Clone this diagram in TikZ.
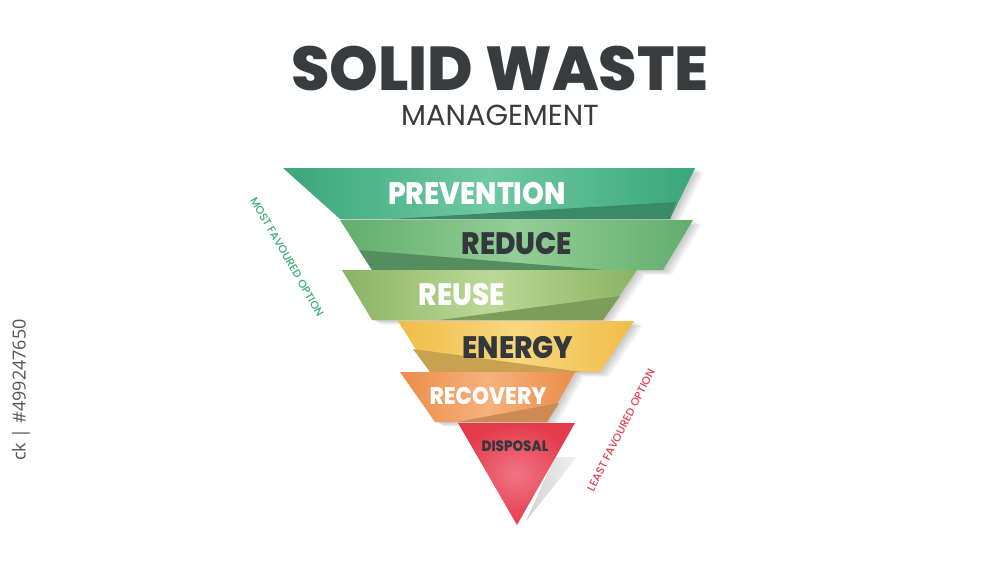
\documentclass[tikz,border=0pt]{standalone}
\usepackage{fontspec}
\setmainfont{Poppins}
\IfFontExistsTF{Poppins ExtraBold}{\newfontfamily\heavy{Poppins ExtraBold}}{\newfontfamily\heavy{Poppins}[UprightFont=* Bold]}
\IfFontExistsTF{Poppins Medium}{\newfontfamily\medium{Poppins Medium}}{\newfontfamily\medium{Poppins}}
\IfFontExistsTF{Open Sans SemiBold}{\newfontfamily\wmfont{Open Sans SemiBold}}{\newfontfamily\wmfont{Open Sans}}
\definecolor{ttl}{HTML}{393C3F}
\definecolor{dk}{HTML}{33383C}
\definecolor{aE}{HTML}{3AA67A}\definecolor{aM}{HTML}{6FC9A3}\definecolor{aD}{HTML}{3A8A68}
\definecolor{bE}{HTML}{62AD6E}\definecolor{bM}{HTML}{92CE96}\definecolor{bD}{HTML}{548E5E}
\definecolor{cE}{HTML}{89B363}\definecolor{cM}{HTML}{BAD996}\definecolor{cD}{HTML}{7D9E5A}
\definecolor{dE}{HTML}{F0BC48}\definecolor{dM}{HTML}{F9D87E}\definecolor{dD}{HTML}{C9A150}
\definecolor{eE}{HTML}{EC8C4A}\definecolor{eM}{HTML}{F5B27C}\definecolor{eD}{HTML}{CC8A56}
\definecolor{fE}{HTML}{E43B4D}\definecolor{fM}{HTML}{F07584}
\definecolor{grn}{HTML}{3AAD78}
\definecolor{rd}{HTML}{E8404F}
\definecolor{wm}{HTML}{555555}
\tikzset{
  lbl/.style={inner sep=0pt, xscale=0.9, font=\heavy\fontsize{31}{31}\selectfont},
  side/.style={inner sep=0pt, font=\medium\fontsize{11}{11}\selectfont},
  shad/.style={fill=black, opacity=0.03},
}
\newcommand\softshadow[1]{\foreach \k in {1,...,7}{\fill[shad, shift={(\k*1.3,\k*0.7)}] #1;}}
\begin{document}
\begin{tikzpicture}[x=1pt,y=-1pt]
\useasboundingbox[fill=white] (0,0) rectangle (1000,563);
% shadows
\softshadow{(283,168)--(695,168)--(670,219)--(340,219)--cycle}
\softshadow{(340,220)--(693,220)--(663,270)--(372,270)--cycle}
\softshadow{(342,270)--(637,270)--(603,320)--(372,320)--cycle}
\softshadow{(398,321)--(634,321)--(600,372)--(430,372)--cycle}
\softshadow{(400,372)--(575,372)--(547,422)--(435,422)--cycle}
\shade[left color=black!18, right color=black!5] (555,457)--(577,457)--(526,521)--cycle;
% band 1
\shade[left color=aE, right color=aE, middle color=aM] (283,168)--(695,168)--(670,219)--(340,219)--cycle;
\fill[aD] (392,219)--(676,202)--(670,219)--cycle;
% band 2
\shade[left color=bE, right color=bE, middle color=bM] (340,220)--(693,220)--(663,270)--(372,270)--cycle;
\fill[bD] (359,250)--(605,270)--(372,270)--cycle;
% band 3
\shade[left color=cE, right color=cE, middle color=cM] (342,270)--(637,270)--(603,320)--(372,320)--cycle;
\fill[cD] (440,320)--(620,296)--(603,320)--cycle;
% band 4
\shade[left color=dE, right color=dE, middle color=dM] (398,321)--(634,321)--(600,372)--(430,372)--cycle;
\fill[dD] (413,349)--(582,372)--(430,372)--cycle;
% band 5
\shade[left color=eE, right color=eE, middle color=eM] (400,372)--(575,372)--(547,422)--(435,422)--cycle;
\fill[eD] (457,422)--(559,403)--(547,422)--cycle;
% band 6
\shade[inner color=fM, outer color=fE] (458,423)--(575,423)--(517,525)--cycle;
% title
\node[inner sep=0pt, text=ttl, font=\heavy\fontsize{62}{62}\selectfont] (title) at (500,69) {SOLID WASTE};
\node[inner sep=0pt, text=ttl, font=\fontsize{29}{29}\selectfont] (sub) at (500,115) {MANAGEMENT};
% labels
\node[lbl, text=white] (prev) at (477,194) {PREVENTION};
\node[lbl, text=dk] (redu) at (517,244) {REDUCE};
\node[lbl, text=white] (reus) at (462,295) {REUSE};
\node[lbl, text=dk] (ener) at (518,348) {ENERGY};
\node[lbl, text=white, font=\heavy\fontsize{24}{24}\selectfont] (reco) at (488,396) {RECOVERY};
\node[lbl, text=dk, font=\heavy\fontsize{15}{15}\selectfont] (disp) at (515,446) {DISPOSAL};
% side notes
\node[side, text=grn, rotate=-60] (most) at (287,257) {MOST FAVOURED OPTION};
\node[side, text=rd, rotate=63] (least) at (621,430) {LEAST FAVOURED OPTION};
% watermark id
\node[inner sep=0pt, text=wm, rotate=90, font=\wmfont\fontsize{18}{18}\selectfont] (wmid) at (21,390) {ck | \#499247650};
\end{tikzpicture}
\end{document}
